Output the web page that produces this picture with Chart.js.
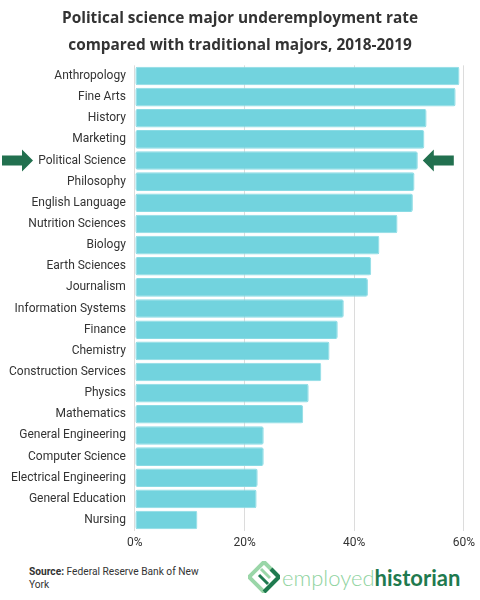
<!DOCTYPE html>
<html>
<head>
<meta charset="utf-8">
<script src="https://cdn.jsdelivr.net/npm/chart.js@4"></script>
<style>
  body { margin: 0; background: #fff; width: 480px; height: 600px; overflow: hidden; font-family: Roboto, sans-serif; }
  #wrap { position: absolute; left: 0; top: 0; width: 480px; height: 559px; }
  #source { position: absolute; left: 29px; top: 565px; width: 170px; font-size: 10.2px; line-height: 13px; color: #333; }
  #logo { position: absolute; left: 248px; top: 561px; height: 32px; display: flex; align-items: center; }
  #logo .txt { font-family: Lato, sans-serif; font-size: 22px; margin-left: 2px; }
  #logo .light { color: #8fd3a0; font-weight: 300; }
  #logo .bold { color: #1f7a4f; font-weight: 700; }
</style>
</head>
<body>
<div id="wrap"><canvas id="chart"></canvas></div>
<div id="source"><b>Source:</b> Federal Reserve Bank of New York</div>
<div id="logo">
  <svg width="32" height="32" viewBox="0 0 32 32">
    <polygon points="16,1 31,16 16,31 1,16" fill="none" stroke="#9ad6a8" stroke-width="4"/>
    <polyline points="16,31 31,16 23,8" fill="none" stroke="#1f7a4f" stroke-width="4"/>
    <line x1="11" y1="14" x2="20" y2="23" stroke="#1f7a4f" stroke-width="3"/>
    <line x1="13" y1="8" x2="22" y2="17" stroke="#9ad6a8" stroke-width="3"/>
  </svg>
  <span class="txt"><span class="light">employed</span><span class="bold">historian</span></span>
</div>
<script>
//Categories and values (percent underemployed)
const majors = [
    'Anthropology', 'Fine Arts', 'History', 'Marketing', 'Political Science',
    'Philosophy', 'English Language', 'Nutrition Sciences', 'Biology', 'Earth Sciences',
    'Journalism', 'Information Systems', 'Finance', 'Chemistry', 'Construction Services',
    'Physics', 'Mathematics', 'General Engineering', 'Computer Science',
    'Electrical Engineering', 'General Education', 'Nursing'
];
const rates = [
    59.2, 58.5, 53.2, 52.8, 51.6,
    51.0, 50.7, 47.9, 44.6, 43.1,
    42.5, 38.1, 37.0, 35.5, 34.0,
    31.7, 30.7, 23.5, 23.5,
    22.4, 22.2, 11.4
];
const highlighted = 'Political Science';
const xTicks = [0, 20, 40, 60];

const arrowColor = '#22704f';

//Drawing the two green arrows next to the highlighted major
const arrowPlugin = {
    id: 'arrows',
    afterDatasetsDraw(chart){
        const ctx = chart.ctx;
        const i = majors.indexOf(highlighted);
        const y = chart.scales.y.getPixelForValue(i);
        const xEnd = chart.scales.x.getPixelForValue(rates[i]) + 5;

        function arrow(tipX, dir){
            // dir = 1 points right, -1 points left
            const len = 31, head = 11, shaft = 5, half = 11;
            const tail = tipX - dir * len;
            const neck = tipX - dir * head;
            ctx.beginPath();
            ctx.moveTo(tail, y - shaft);
            ctx.lineTo(neck, y - shaft);
            ctx.lineTo(neck, y - half);
            ctx.lineTo(tipX, y);
            ctx.lineTo(neck, y + half);
            ctx.lineTo(neck, y + shaft);
            ctx.lineTo(tail, y + shaft);
            ctx.closePath();
            ctx.fill();
        }
        ctx.save();
        ctx.fillStyle = arrowColor;
        arrow(33, 1);
        arrow(xEnd, -1);
        ctx.restore();
    }
};

const ctx = document.getElementById('chart').getContext('2d');

const data = {
    labels: majors,
    datasets: [{
        data: rates,
        backgroundColor: '#72d3de',
        borderColor: '#8adbe4',
        borderWidth: 1,
        borderRadius: 2,
        borderSkipped: false,
        categoryPercentage: 1,
        barPercentage: 0.88
    }]
};

const config = {
    type: 'bar',
    data: data,
    plugins: [arrowPlugin],
    options: {
        indexAxis: 'y',
        responsive: true,
        maintainAspectRatio: false,
        animation: false,
        layout: {
            padding: { left: 0, right: 0, top: 0, bottom: 4 }
        },
        scales: {
            x: {
                min: 0,
                max: 60,
                afterBuildTicks(axis){
                    axis.ticks = xTicks.map(v => ({ value: v }));
                },
                grid: {
                    color: '#dcdcdc',
                    drawTicks: false
                },
                border: { display: false },
                ticks: {
                    color: '#333',
                    padding: 5,
                    font: { size: 12, family: 'Roboto' },
                    callback: v => v + '%'
                }
            },
            y: {
                grid: { display: false, drawTicks: false, tickLength: 0 },
                border: { display: false },
                ticks: {
                    color: '#333',
                    padding: 9,
                    font: { size: 12, family: 'Roboto' }
                }
            }
        },
        plugins: {
            legend: { display: false },
            tooltip: { enabled: false },
            title: {
                display: true,
                text: ['Political science major underemployment rate', 'compared with traditional majors, 2018-2019'],
                color: '#333',
                font: { size: 15.4, weight: 'bold', family: 'Open Sans', lineHeight: 1.7 },
                padding: { top: 6, bottom: 7 }
            }
        }
    }
};

const myChart = new Chart(ctx, config);
</script>
</body>
</html>
